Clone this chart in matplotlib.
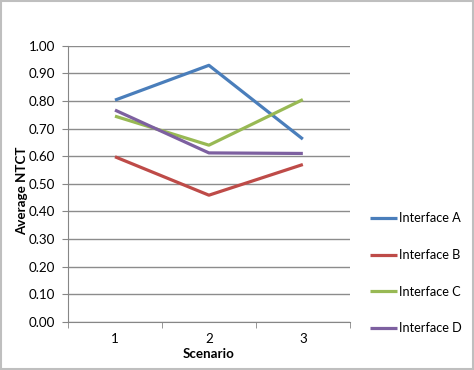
import matplotlib.pyplot as plt
import numpy as np
from matplotlib.patches import Rectangle

scenarios = ['1', '2', '3']
iface_a = [0.803, 0.929, 0.662]
iface_b = [0.598, 0.459, 0.570]
iface_c = [0.745, 0.640, 0.805]
iface_d = [0.767, 0.612, 0.610]
names = ['Interface A', 'Interface B', 'Interface C', 'Interface D']
colors = ['#4A7EBB', '#BE4B48', '#98B954', '#7D60A0']

plt.rcParams['font.family'] = ['Lato', 'DejaVu Sans']

fig = plt.figure(figsize=(4.74, 3.70), dpi=100)
ax = fig.add_axes([0.1435, 0.1297, 0.5945, 0.7468])

x = np.arange(1, len(scenarios) + 1)
for vals, nm, col in zip([iface_a, iface_b, iface_c, iface_d], names, colors):
	ax.plot(x, vals, color=col, lw=2.3, label=nm, solid_capstyle='butt')

ax.set_xlim(0.5, 3.5)
ax.set_ylim(0, 1.0)
ax.set_yticks(np.arange(0, 1.01, 0.1))
ax.set_yticklabels(['%.2f' % v for v in np.arange(0, 1.01, 0.1)], fontsize=9.6)
ax.set_xticks(x)
ax.set_xticklabels(scenarios, fontsize=9.6)
ax.set_xticks([0.5, 1.5, 2.5, 3.5], minor=True)
ax.tick_params(axis='x', which='major', length=0, pad=8)
ax.tick_params(axis='x', which='minor', length=4, color='#868686')
ax.tick_params(axis='y', length=4, color='#868686', pad=5.5)
ax.grid(axis='y', color='#8C8C8C', lw=1)
ax.set_axisbelow(True)
for s in ['top', 'right']:
	ax.spines[s].set_visible(False)
for s in ['left', 'bottom']:
	ax.spines[s].set_color('#868686')

ax.set_xlabel('Scenario', fontsize=9.6, fontweight='bold', labelpad=2)
ax.set_ylabel('Average NTCT', fontsize=9.6, fontweight='bold')
ax.yaxis.set_label_coords(-0.14, 0.474)

leg = fig.legend(loc='upper left', bbox_to_anchor=(0.757, 0.457), frameon=False,
	fontsize=9.2, handlelength=2.1, handletextpad=0.15, labelspacing=1.93)

fig.patches.append(Rectangle((0.002, 0.003), 0.996, 0.994, transform=fig.transFigure,
	fill=False, edgecolor='#BFBFBF', lw=1.5))

plt.savefig('out.png', dpi=100)
